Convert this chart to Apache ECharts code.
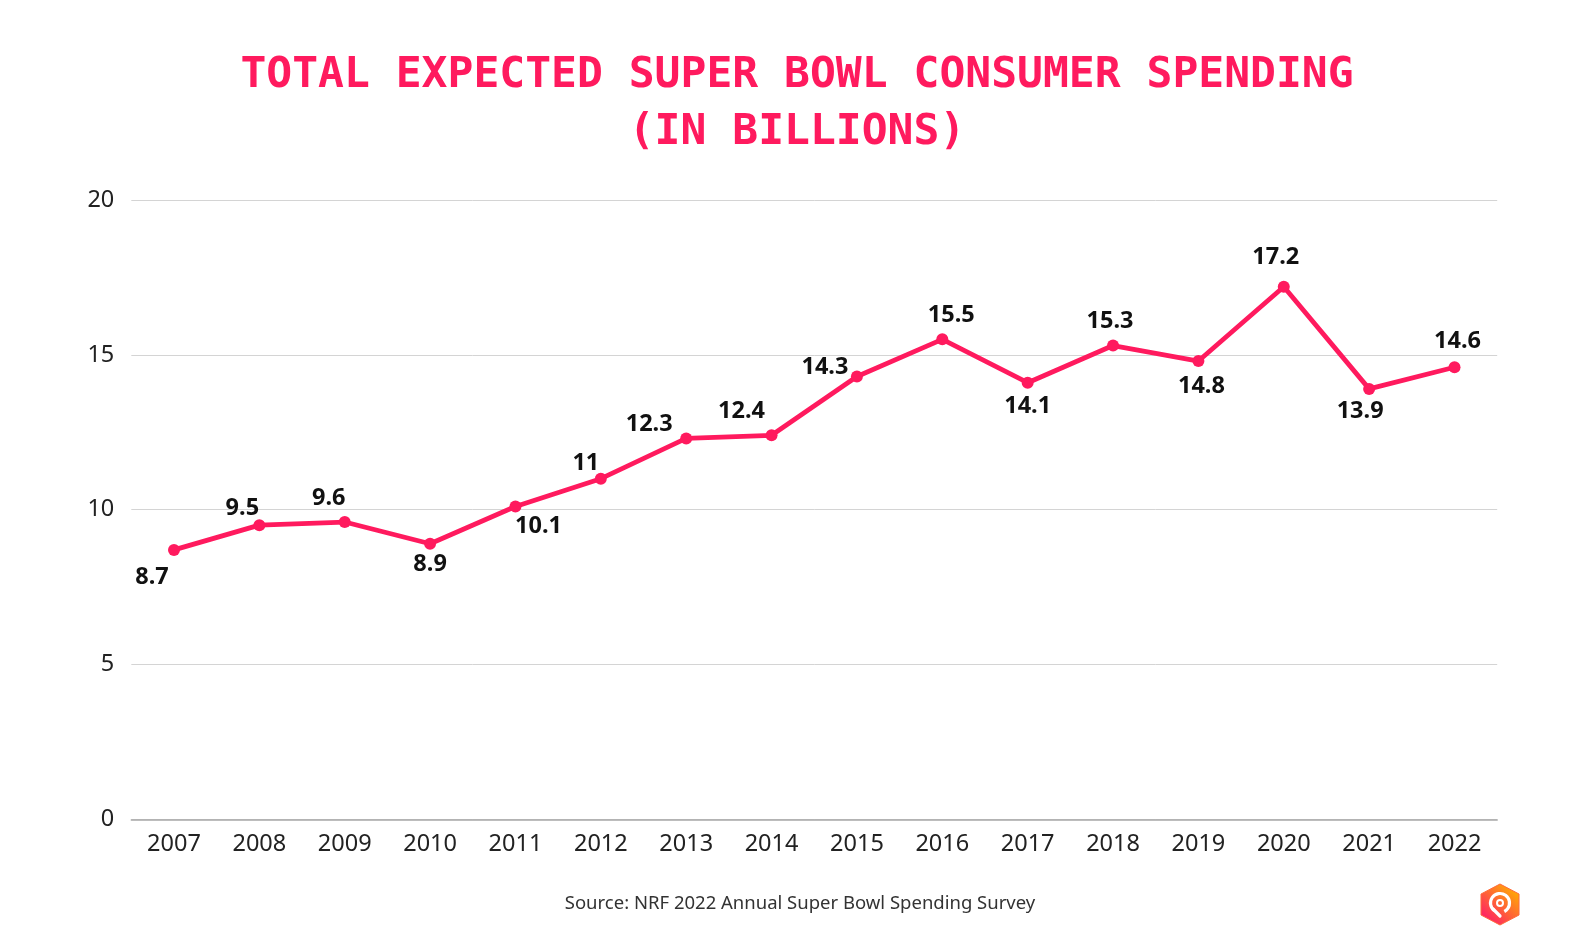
<!DOCTYPE html>
<html>
<head>
<meta charset="utf-8">
<style>
html, body { margin: 0; padding: 0; background: #fff; }
#chart { width: 1584px; height: 950px; }
</style>
<script src="https://cdn.jsdelivr.net/npm/echarts@6/dist/echarts.min.js"></script>
</head>
<body>
<div id="chart"></div>
<script>
var years = ['2007','2008','2009','2010','2011','2012','2013','2014','2015','2016','2017','2018','2019','2020','2021','2022'];
var spending = [8.7,9.5,9.6,8.9,10.1,11,12.3,12.4,14.3,15.5,14.1,15.3,14.8,17.2,13.9,14.6];

// each label sits by hand around its point in the reference
var labelOffsets = [[-22,27],[-17,-17],[-16,-24],[0,21],[23,20],[-15,-15],[-37,-14],[-30,-24],[-32,-9],[9,-24],[0,24],[-3,-24],[3,25],[-8,-29],[-9,22],[3,-26]];

var PINK = '#ff1a5e';

var chart = echarts.init(document.getElementById('chart'));

chart.setOption({
	animation: false,
	backgroundColor: '#fff',
	title: {
		text: 'TOTAL EXPECTED SUPER BOWL CONSUMER SPENDING\n(IN BILLIONS)',
		left: 792,
		top: 42,
		textAlign: 'center',
		textStyle: {
			fontFamily: 'DejaVu Sans Mono',
			fontWeight: 'bold',
			fontSize: 43,
			lineHeight: 57,
			color: PINK
		}
	},
	grid: { left: 131.3, right: 86.8, top: 200, bottom: 130.7 },
	xAxis: {
		type: 'category',
		data: years,
		axisTick: { show: false },
		axisLine: { lineStyle: { color: '#a8a8a8', width: 1.5 } },
		axisLabel: { color: '#222', fontFamily: 'Noto Sans', fontSize: 23.5, margin: 13 }
	},
	yAxis: {
		type: 'value',
		min: 0,
		max: 20,
		interval: 5,
		axisLine: { show: false },
		axisTick: { show: false },
		splitLine: { lineStyle: { color: '#d4d4d4', width: 1 } },
		axisLabel: { color: '#222', fontFamily: 'Noto Sans', fontSize: 23.5, margin: 17 }
	},
	series: [{
		type: 'line',
		data: spending.map(function(v, i) {
			return {
				value: v,
				label: { offset: labelOffsets[i] }
			};
		}),
		symbol: 'circle',
		symbolSize: 12,
		lineStyle: { color: PINK, width: 4.8 },
		itemStyle: { color: PINK },
		label: {
			show: true,
			position: 'inside',
			align: 'center',
			verticalAlign: 'middle',
			color: '#111',
			fontFamily: 'Noto Sans',
			fontWeight: 'bold',
			fontSize: 23.5
		}
	}],
	graphic: [
		{
			type: 'text',
			x: 800,
			y: 904,
			style: { text: 'Source: NRF 2022 Annual Super Bowl Spending Survey', fill: '#333', font: '18.5px "Noto Sans"', align: 'center', verticalAlign: 'middle' }
		},
		{
			type: 'polygon',
			shape: { points: [[1500,884],[1519,894],[1519,915],[1500,925],[1481,915],[1481,894]] },
			style: {
				fill: new echarts.graphic.LinearGradient(0, 1, 1, 0, [
					{ offset: 0.1, color: '#ff1a6a' },
					{ offset: 0.9, color: '#ffb000' }
				]),
				stroke: '#ff6a3a',
				lineWidth: 1,
				lineJoin: 'round'
			}
		},
		{
			type: 'arc',
			shape: { cx: 1500, cy: 903, r: 9.5, startAngle: Math.PI * 0.7, endAngle: Math.PI * 0.35 },
			style: { stroke: '#fff', lineWidth: 3.2, fill: 'none' }
		},
		{
			type: 'line',
			shape: { x1: 1493, y1: 909, x2: 1500, y2: 916 },
			style: { stroke: '#fff', lineWidth: 3.2, lineCap: 'round' }
		},
		{
			type: 'circle',
			shape: { cx: 1500, cy: 903, r: 3 },
			style: { fill: 'none', stroke: '#fff', lineWidth: 2 }
		}
	]
});
</script>
</body>
</html>
